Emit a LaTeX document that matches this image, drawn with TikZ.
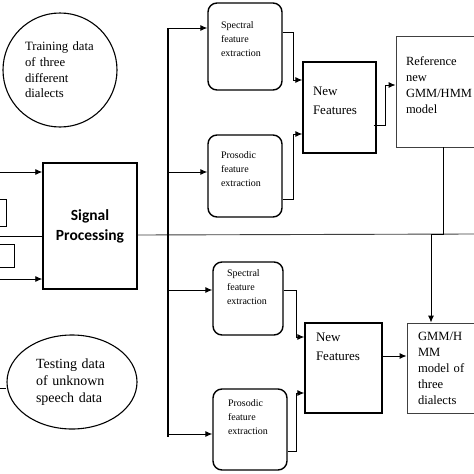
\documentclass[tikz,border=0pt]{standalone}
\usepackage{fontspec}
\setmainfont{Liberation Serif}
\newfontfamily\sigfont{Carlito}
\usetikzlibrary{shapes,arrows,arrows.meta,positioning}
\hyphenpenalty=10000

\begin{document}
\begin{tikzpicture}[
    x=1pt,y=-1pt,>={Latex[length=7pt,width=6pt]},line width=0.9pt,
  blob/.style={ellipse,draw,line width=1.1pt,inner sep=0pt,align=left},
  extract/.style={rectangle,rounded corners=9pt,draw,line width=1.4pt,align=left,inner xsep=13pt,font=\fontsize{10}{14}\selectfont},
  feat/.style={rectangle,draw,line width=1.4pt,align=left,inner xsep=10pt,font=\fontsize{13}{19}\selectfont},
  model/.style={rectangle,draw=black!75,line width=0.9pt,align=left,inner xsep=10pt,font=\fontsize{12.5}{15.7}\selectfont},
]

  \clip (0,0) rectangle (474,474);
  \fill[white] (0,0) rectangle (474,474);

  % data sources
  \node[blob,minimum width=114pt,minimum height=114pt,text width=70pt,
    font=\fontsize{12.7}{15.7}\selectfont] (train) at (60,70)
    {Training data\\of three\\different\\dialects};
  \node[blob,minimum width=130pt,minimum height=94pt,text width=72pt,
    font=\fontsize{14}{17}\selectfont] (test) at (72,382)
    {Testing data\\of unknown\\speech data};

  \node[draw,line width=1.5pt,minimum width=94pt,minimum height=126pt,align=center,
    font=\sigfont\bfseries\fontsize{15.5}{20}\selectfont] (sig) at (90,226)
    {Signal\\Processing};

  % training branch
  \node[extract,text width=48pt,text depth=42pt,minimum height=87pt] (spec1) at (245,46.5) {Spectral\\feature\\extraction};
  \node[extract,text width=48pt,text depth=42pt,minimum height=82pt] (pros1) at (245,176) {Prosodic\\feature\\extraction};
  \node[feat,text width=53pt,text depth=33pt,minimum height=91pt] (feat1) at (339.5,107.5) {New\\Features};
  \node[model,text width=74pt,text depth=60pt,minimum height=111pt] (ref) at (443,91.5) {Reference\\new\\GMM/HMM\\model};

  % testing branch
  \node[extract,inner xsep=14pt,text width=42pt,text depth=50pt,minimum height=73pt] (spec2) at (248,298.5) {Spectral\\feature\\extraction};
  \node[extract,inner xsep=15pt,text width=44pt,text depth=52pt,minimum height=81pt] (pros2) at (250,429.5) {Prosodic\\feature\\extraction};
  \node[feat,inner xsep=11pt,text width=55pt,text depth=61pt,minimum height=90pt] (feat2) at (343.5,368) {New\\Features};
  \node[model,inner xsep=11pt,text width=61pt,minimum height=90pt,
    font=\fontsize{12.6}{16}\selectfont] (gmm) at (448.5,368) {GMM/H\\MM\\model of\\three\\dialects};

  \coordinate (bustop) at (168,28);
  \coordinate (b2) at (168,172);
  \coordinate (b3) at (168,290);
  \coordinate (b4) at (168,434);
  \coordinate (busbot) at (168,437);
  \coordinate (rim) at (474,234);
  \coordinate (in1) at (0,172);
  \coordinate (in2) at (0,236);
  \coordinate (in3) at (0,279);
  \coordinate (stub) at (0,388);

  % inputs on the left
  \draw[->] (in1) -- (in1 -| sig.west);
  \draw (in2) -- (in2 -| sig.west);
  \draw[->] (in3) -- (in3 -| sig.west);
  \draw[line width=1pt] (-5,199) rectangle (6,226);
  \draw[line width=1pt] (-5,244) rectangle (14,267);
  \draw (stub) -- (stub -| test.west);

  % bus
  \draw[black!75] (sig.east |- 0,235) -- (rim);
  \draw[line width=1.2pt] (bustop) -- (busbot);
  \draw[->] (bustop) -- (bustop -| spec1.west);
  \draw[->] (b2) -- (b2 -| pros1.west);
  \draw[->] (b3) -- (b3 -| spec2.west);
  \draw[->] (b4) -- (b4 -| pros2.west);

  \draw[->] (spec1.east |- 0,32) -- ++(11,0) |- (feat1.west |- 0,80);
  \draw[->] (pros1.east |- 0,199) -- ++(11,0) |- (feat1.west |- 0,134);
  \draw[->] (feat1.east |- 0,125) ++(-3,0) -- ++(12,0) |- (ref.west |- 0,85);

  \draw[->] (spec2.east |- 0,290) -- ++(13,0) |- (feat2.west |- 0,337);
  \draw[->] (pros2.east |- 0,451) -- ++(9,0) |- (feat2.west |- 0,393);
  \draw[->] (feat2.east |- 0,356) -- (gmm.west |- 0,356);

  \draw[->] (ref.south) -- (ref.south |- 0,234) -- (431,234) -- (gmm.north -| 431,0);
\end{tikzpicture}
\end{document}
